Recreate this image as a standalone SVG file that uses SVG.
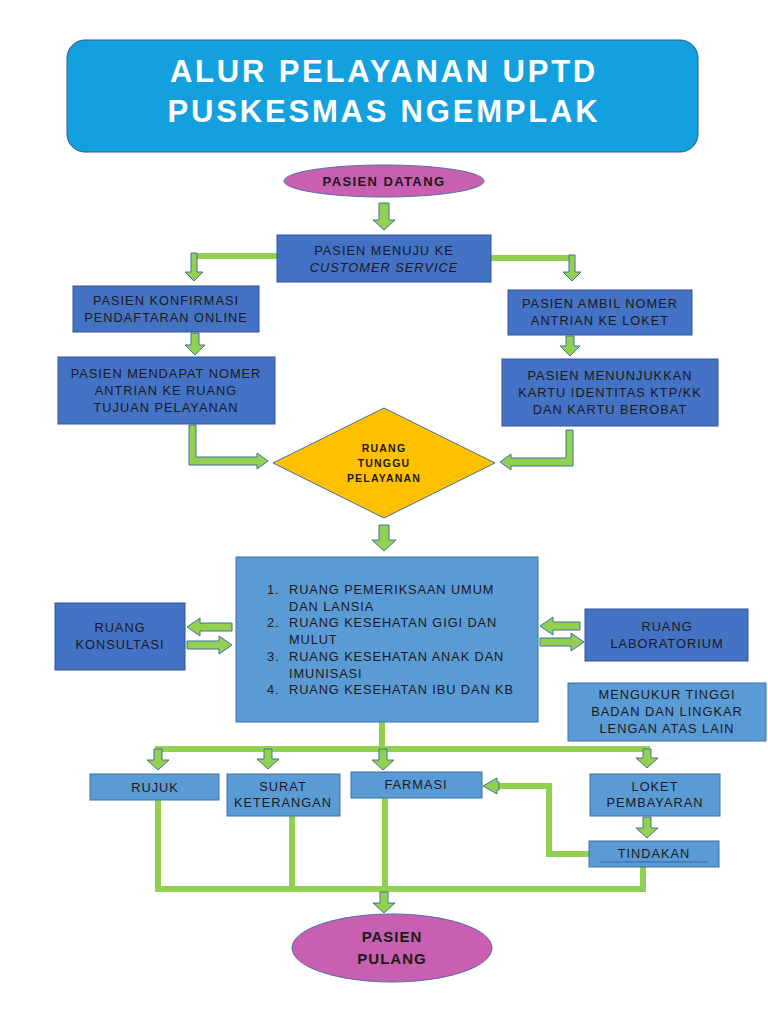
<svg xmlns="http://www.w3.org/2000/svg" width="768" height="1024" viewBox="0 0 768 1024">
<style>
.bx{fill:#4472C4;stroke:#2F5597;stroke-width:1}
.lb{fill:#5B9BD5;stroke:#41719C;stroke-width:1}
.t{font-family:"Liberation Sans",Arial,sans-serif;font-size:12.8px;fill:#1a1a1a;text-anchor:middle;letter-spacing:1px}
.tl{font-family:"Liberation Sans",Arial,sans-serif;font-size:12.8px;fill:#1a1a1a;letter-spacing:0.9px}
.tb{font-family:"Liberation Sans",Arial,sans-serif;font-weight:bold;fill:#1a1a1a;text-anchor:middle}
.ar{fill:#92D050;stroke:#41719C;stroke-width:1}
.ln{fill:none;stroke:#92D050;stroke-width:6}
</style>
<rect width="768" height="1024" fill="#ffffff"/>

<g id="title">
<rect x="67" y="40" width="631" height="112" rx="18" fill="#13A0DE" stroke="#2F5597" stroke-width="1"/>
<text x="384" y="82" font-family="Liberation Sans,Arial,sans-serif" font-weight="bold" font-size="31" fill="#ffffff" text-anchor="middle" letter-spacing="2.8">ALUR PELAYANAN UPTD</text>
<text x="384" y="122" font-family="Liberation Sans,Arial,sans-serif" font-weight="bold" font-size="31" fill="#ffffff" text-anchor="middle" letter-spacing="2.8">PUSKESMAS NGEMPLAK</text>
</g>

<g id="connectors">
<path class="ar" d="M379,203 H389 V220 H395 L384,230 L373,220 H379 Z"/>
<line class="ln" x1="277" y1="256" x2="191" y2="256"/>
<path class="ar" d="M191,253 H197 V272 H203 L194,281 L185,272 H191 Z"/>
<line class="ln" x1="491" y1="258" x2="575" y2="258"/>
<path class="ar" d="M569,255 H575 V272 H581 L572,281 L563,272 H569 Z"/>
<path class="ar" d="M191,333 H199 V345 H205 L195,355 L185,345 H191 Z"/>
<path class="ar" d="M566,336 H574 V346 H580 L570,356 L560,346 H566 Z"/>
<path class="ar" d="M189,425 H196 V457 H257 V453 L268,461 L257,469 V465 H189 Z"/>
<path class="ar" d="M566,430 H573 V466 H511 V470 L500,462 L511,454 V458 H566 Z"/>
<path class="ar" d="M379,525 H389 V540 H396 L384,551 L372,540 H379 Z"/>
<path class="ar" d="M232,623 H200 V618 L187,627 L200,636 V631 H232 Z"/>
<path class="ar" d="M187,641 H219 V636 L232,645 L219,654 V649 H187 Z"/>
<path class="ar" d="M580,622 H553 V617 L540,626 L553,635 V630 H580 Z"/>
<path class="ar" d="M540,638 H571 V633 L584,642 L571,651 V646 H540 Z"/>
<line class="ln" x1="382" y1="722" x2="382" y2="749"/>
<line class="ln" x1="155" y1="749" x2="650" y2="749"/>
<path class="ar" d="M154,749 H162 V760 H169 L158,770 L147,760 H154 Z"/>
<path class="ar" d="M264,749 H272 V759 H279 L268,769 L257,759 H264 Z"/>
<path class="ar" d="M379,749 H387 V760 H394 L383,770 L372,760 H379 Z"/>
<path class="ar" d="M643,749 H651 V758 H658 L647,768 L636,758 H643 Z"/>
<path class="ar" d="M643,817 H651 V828 H658 L647,838 L636,828 H643 Z"/>
<polyline class="ln" points="589,854 549,854 549,786 496,786"/>
<path class="ar" d="M499,782 H497 V778 L483,786 L497,794 V790 H499 Z"/>
<line class="ln" x1="158" y1="800" x2="158" y2="892"/>
<line class="ln" x1="292" y1="816" x2="292" y2="892"/>
<line class="ln" x1="385" y1="798" x2="385" y2="892"/>
<line class="ln" x1="643" y1="867" x2="643" y2="892"/>
<line class="ln" x1="155" y1="889" x2="646" y2="889"/>
<path class="ar" d="M380,892 H388 V903 H395 L384,913 L373,903 H380 Z"/>
</g>

<g id="pasien-datang">
<ellipse cx="384" cy="181" rx="100" ry="16" fill="#C95FB0" stroke="#4F6FAA" stroke-width="1"/>
<text class="tb" x="384" y="186" font-size="13" letter-spacing="1.4">PASIEN DATANG</text>
</g>

<g id="customer-service">
<rect class="bx" x="277" y="235" width="214" height="47"/>
<text class="t" x="384" y="255">PASIEN MENUJU KE</text>
<text class="t" x="384" y="272" font-style="italic">CUSTOMER SERVICE</text>
</g>

<g id="konfirmasi-online">
<rect class="bx" x="73" y="286" width="186" height="46"/>
<text class="t" x="166" y="305">PASIEN KONFIRMASI</text>
<text class="t" x="166" y="322">PENDAFTARAN ONLINE</text>
</g>

<g id="ambil-nomer">
<rect class="bx" x="508" y="290" width="184" height="45"/>
<text class="t" x="600" y="308">PASIEN AMBIL NOMER</text>
<text class="t" x="600" y="325">ANTRIAN KE LOKET</text>
</g>

<g id="mendapat-nomer">
<rect class="bx" x="58" y="357" width="217" height="67"/>
<text class="t" x="166" y="378">PASIEN MENDAPAT NOMER</text>
<text class="t" x="166" y="395">ANTRIAN KE RUANG</text>
<text class="t" x="166" y="412">TUJUAN PELAYANAN</text>
</g>

<g id="menunjukkan-kartu">
<rect class="bx" x="502" y="359" width="216" height="67"/>
<text class="t" x="610" y="380">PASIEN MENUNJUKKAN</text>
<text class="t" x="610" y="397">KARTU IDENTITAS KTP/KK</text>
<text class="t" x="610" y="414">DAN KARTU BEROBAT</text>
</g>

<g id="ruang-tunggu">
<polygon points="384,408 495,463 384,518 273,463" fill="#FFC000" stroke="#41719C" stroke-width="1"/>
<text class="tb" x="384" y="452" font-size="10.5" letter-spacing="1.2">RUANG</text>
<text class="tb" x="384" y="467" font-size="10.5" letter-spacing="1.2">TUNGGU</text>
<text class="tb" x="384" y="482" font-size="10.5" letter-spacing="1.2">PELAYANAN</text>
</g>

<g id="ruang-pelayanan">
<rect class="lb" x="236" y="557" width="302" height="165"/>
<text class="tl" x="267" y="594">1.</text>
<text class="tl" x="289" y="594">RUANG PEMERIKSAAN UMUM</text>
<text class="tl" x="289" y="611">DAN LANSIA</text>
<text class="tl" x="267" y="627">2.</text>
<text class="tl" x="289" y="627">RUANG KESEHATAN GIGI DAN</text>
<text class="tl" x="289" y="644">MULUT</text>
<text class="tl" x="267" y="661">3.</text>
<text class="tl" x="289" y="661">RUANG KESEHATAN ANAK DAN</text>
<text class="tl" x="289" y="678">IMUNISASI</text>
<text class="tl" x="267" y="694">4.</text>
<text class="tl" x="289" y="694">RUANG KESEHATAN IBU DAN KB</text>
</g>

<g id="konsultasi">
<rect class="bx" x="55" y="603" width="130" height="67"/>
<text class="t" x="120" y="632">RUANG</text>
<text class="t" x="120" y="649">KONSULTASI</text>
</g>

<g id="laboratorium">
<rect class="bx" x="585" y="609" width="163" height="52"/>
<text class="t" x="667" y="631">RUANG</text>
<text class="t" x="667" y="648">LABORATORIUM</text>
</g>

<g id="mengukur">
<rect class="lb" x="568" y="683" width="198" height="58"/>
<text class="t" x="667" y="699">MENGUKUR TINGGI</text>
<text class="t" x="667" y="716">BADAN DAN LINGKAR</text>
<text class="t" x="667" y="733">LENGAN ATAS LAIN</text>
</g>

<g id="rujuk">
<rect class="lb" x="90" y="774" width="129" height="26"/>
<text class="t" x="155" y="792">RUJUK</text>
</g>

<g id="surat-keterangan">
<rect class="lb" x="227" y="774" width="113" height="42"/>
<text class="t" x="283" y="791">SURAT</text>
<text class="t" x="283" y="807">KETERANGAN</text>
</g>

<g id="farmasi">
<rect class="lb" x="351" y="772" width="131" height="26"/>
<text class="t" x="416" y="789">FARMASI</text>
</g>

<g id="loket-pembayaran">
<rect class="lb" x="590" y="774" width="130" height="42"/>
<text class="t" x="655" y="791">LOKET</text>
<text class="t" x="655" y="807">PEMBAYARAN</text>
</g>

<g id="tindakan">
<rect class="lb" x="589" y="841" width="130" height="26"/>
<text class="t" x="654" y="858">TINDAKAN</text>
<line x1="600" y1="862" x2="708" y2="862" stroke="#2F5597" stroke-width="0.8"/>
</g>

<g id="pasien-pulang">
<ellipse cx="392" cy="948" rx="100" ry="34" fill="#C95FB0" stroke="#4F6FAA" stroke-width="1"/>
<text class="tb" x="392" y="942" font-size="15" letter-spacing="1">PASIEN</text>
<text class="tb" x="392" y="964" font-size="15" letter-spacing="1">PULANG</text>
</g>
</svg>
